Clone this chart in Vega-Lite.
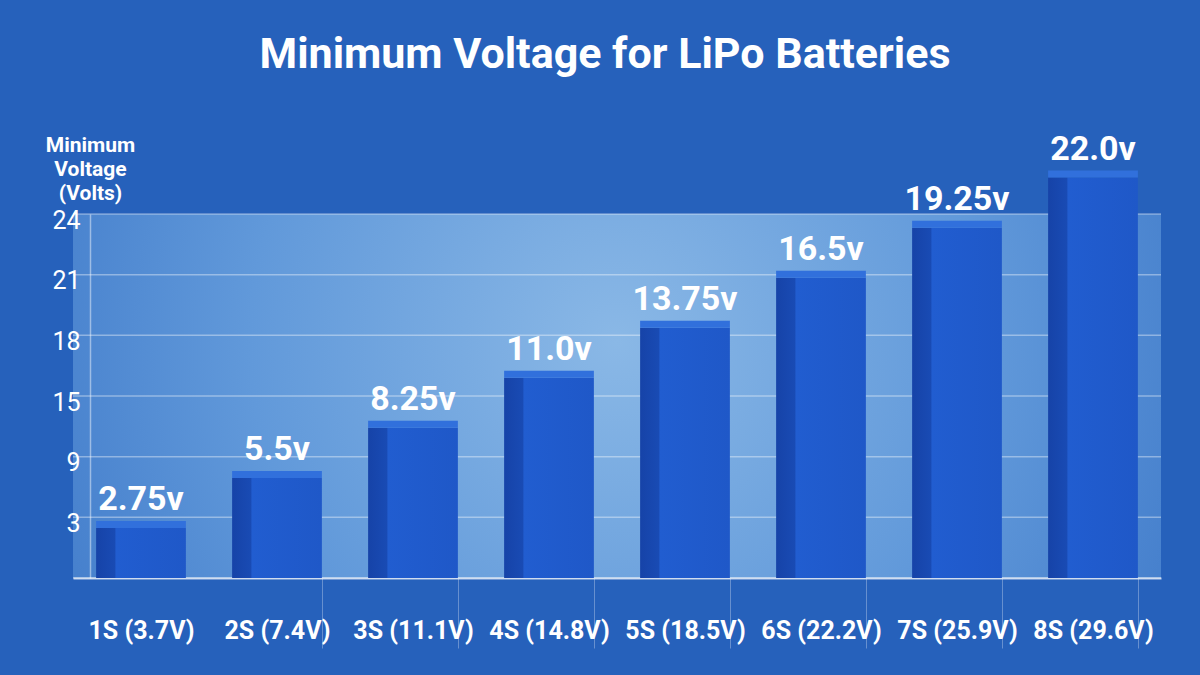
{
  "$schema": "https://vega.github.io/schema/vega-lite/v6.json",
  "width": 1088,
  "height": 364,
  "autosize": {"type": "none"},
  "padding": {"left": 73, "top": 214, "right": 39, "bottom": 97},
  "background": "#2661bb",
  "config": {
    "font": "Roboto",
    "view": {
      "stroke": null,
      "fill": {
        "gradient": "radial",
        "x1": 0.5, "y1": 0.45, "r1": 0,
        "x2": 0.5, "y2": 0.45, "r2": 0.75,
        "stops": [
          {"offset": 0, "color": "#8ab8e6"},
          {"offset": 0.45, "color": "#6199da"},
          {"offset": 1, "color": "#2c68c0"}
        ]
      }
    }
  },
  "title": {
    "text": "Minimum Voltage for LiPo Batteries",
    "font": "Roboto",
    "fontSize": 43,
    "fontWeight": "bold",
    "color": "white",
    "anchor": "middle",
    "dx": -12,
    "offset": 56
  },
  "datasets": {
    "packs": [
      {"pack": "1S (3.7V)", "min_v": 2.75, "label": "2.75v"},
      {"pack": "2S (7.4V)", "min_v": 5.5, "label": "5.5v"},
      {"pack": "3S (11.1V)", "min_v": 8.25, "label": "8.25v"},
      {"pack": "4S (14.8V)", "min_v": 11.0, "label": "11.0v"},
      {"pack": "5S (18.5V)", "min_v": 13.75, "label": "13.75v"},
      {"pack": "6S (22.2V)", "min_v": 16.5, "label": "16.5v"},
      {"pack": "7S (25.9V)", "min_v": 19.25, "label": "19.25v"},
      {"pack": "8S (29.6V)", "min_v": 22.0, "label": "22.0v"}
    ],
    "levels": [
      {"level": "24"}, {"level": "21"}, {"level": "18"}, {"level": "15"},
      {"level": "9"}, {"level": "3"}, {"level": "0"}
    ]
  },
  "layer": [
    {
      "data": {"name": "levels"},
      "mark": {"type": "rule", "color": "rgba(255,255,255,0.38)", "strokeWidth": 1.5},
      "encoding": {
        "y": {
          "field": "level",
          "type": "ordinal",
          "scale": {"type": "point", "domain": ["24", "21", "18", "15", "9", "3", "0"], "padding": 0},
          "axis": {
            "orient": "left",
            "offset": -17,
            "grid": false,
            "ticks": false,
            "domainColor": "rgba(255,255,255,0.45)",
            "domainWidth": 1.5,
            "labelExpr": "datum.value == '0' ? '' : datum.label",
            "labelFont": "Roboto",
            "labelFontSize": 25,
            "labelColor": "white",
            "labelPadding": 10,
            "labelOffset": 6,
            "title": ["Minimum", "Voltage", "(Volts)"],
            "titleFont": "Roboto",
            "titleFontSize": 21,
            "titleFontWeight": "bold",
            "titleColor": "white",
            "titleLineHeight": 24,
            "titleAngle": 0,
            "titleAlign": "center",
            "titleBaseline": "top",
            "titleX": 0,
            "titleY": -80
          }
        }
      }
    },
    {
      "data": {"name": "packs"},
      "encoding": {
        "x": {
          "field": "pack",
          "type": "nominal",
          "sort": null,
          "scale": {"paddingInner": 0.34, "paddingOuter": 0.17},
          "axis": {
            "title": null,
            "labelAngle": 0,
            "labelFont": "Roboto",
            "labelFontSize": 25,
            "labelFontWeight": "bold",
            "labelColor": "white",
            "labelPadding": -30,
            "tickBand": "extent",
            "tickSize": 70,
            "tickColor": "rgba(255,255,255,0.3)",
            "tickWidth": 1,
            "tickOpacity": {
              "condition": {"test": "datum.value == '1S (3.7V)' || !datum.value", "value": 0},
              "value": 1
            },
            "domainColor": "rgba(255,255,255,0.7)",
            "domainWidth": 2
          }
        },
        "y": {
          "field": "min_v",
          "type": "quantitative",
          "scale": {"domain": [0, 20], "nice": false},
          "axis": null
        }
      },
      "layer": [
        {
          "mark": {
            "type": "bar",
            "fill": {
              "gradient": "linear",
              "x1": 0, "y1": 0, "x2": 1, "y2": 0,
              "stops": [
                {"offset": 0, "color": "#1643a8"},
                {"offset": 0.21, "color": "#194bb4"},
                {"offset": 0.22, "color": "#215dd0"},
                {"offset": 1, "color": "#1f58c8"}
              ]
            }
          }
        },
        {
          "mark": {"type": "bar", "fill": "#3170dc", "yOffset": -7},
          "encoding": {"y2": {"field": "min_v"}}
        },
        {
          "mark": {
            "type": "text",
            "font": "Roboto",
            "fontSize": 34,
            "fontWeight": "bold",
            "color": "white",
            "baseline": "alphabetic",
            "dy": -18
          },
          "encoding": {"text": {"field": "label"}}
        }
      ]
    }
  ],
  "resolve": {"scale": {"y": "independent"}, "axis": {"y": "independent"}}
}
